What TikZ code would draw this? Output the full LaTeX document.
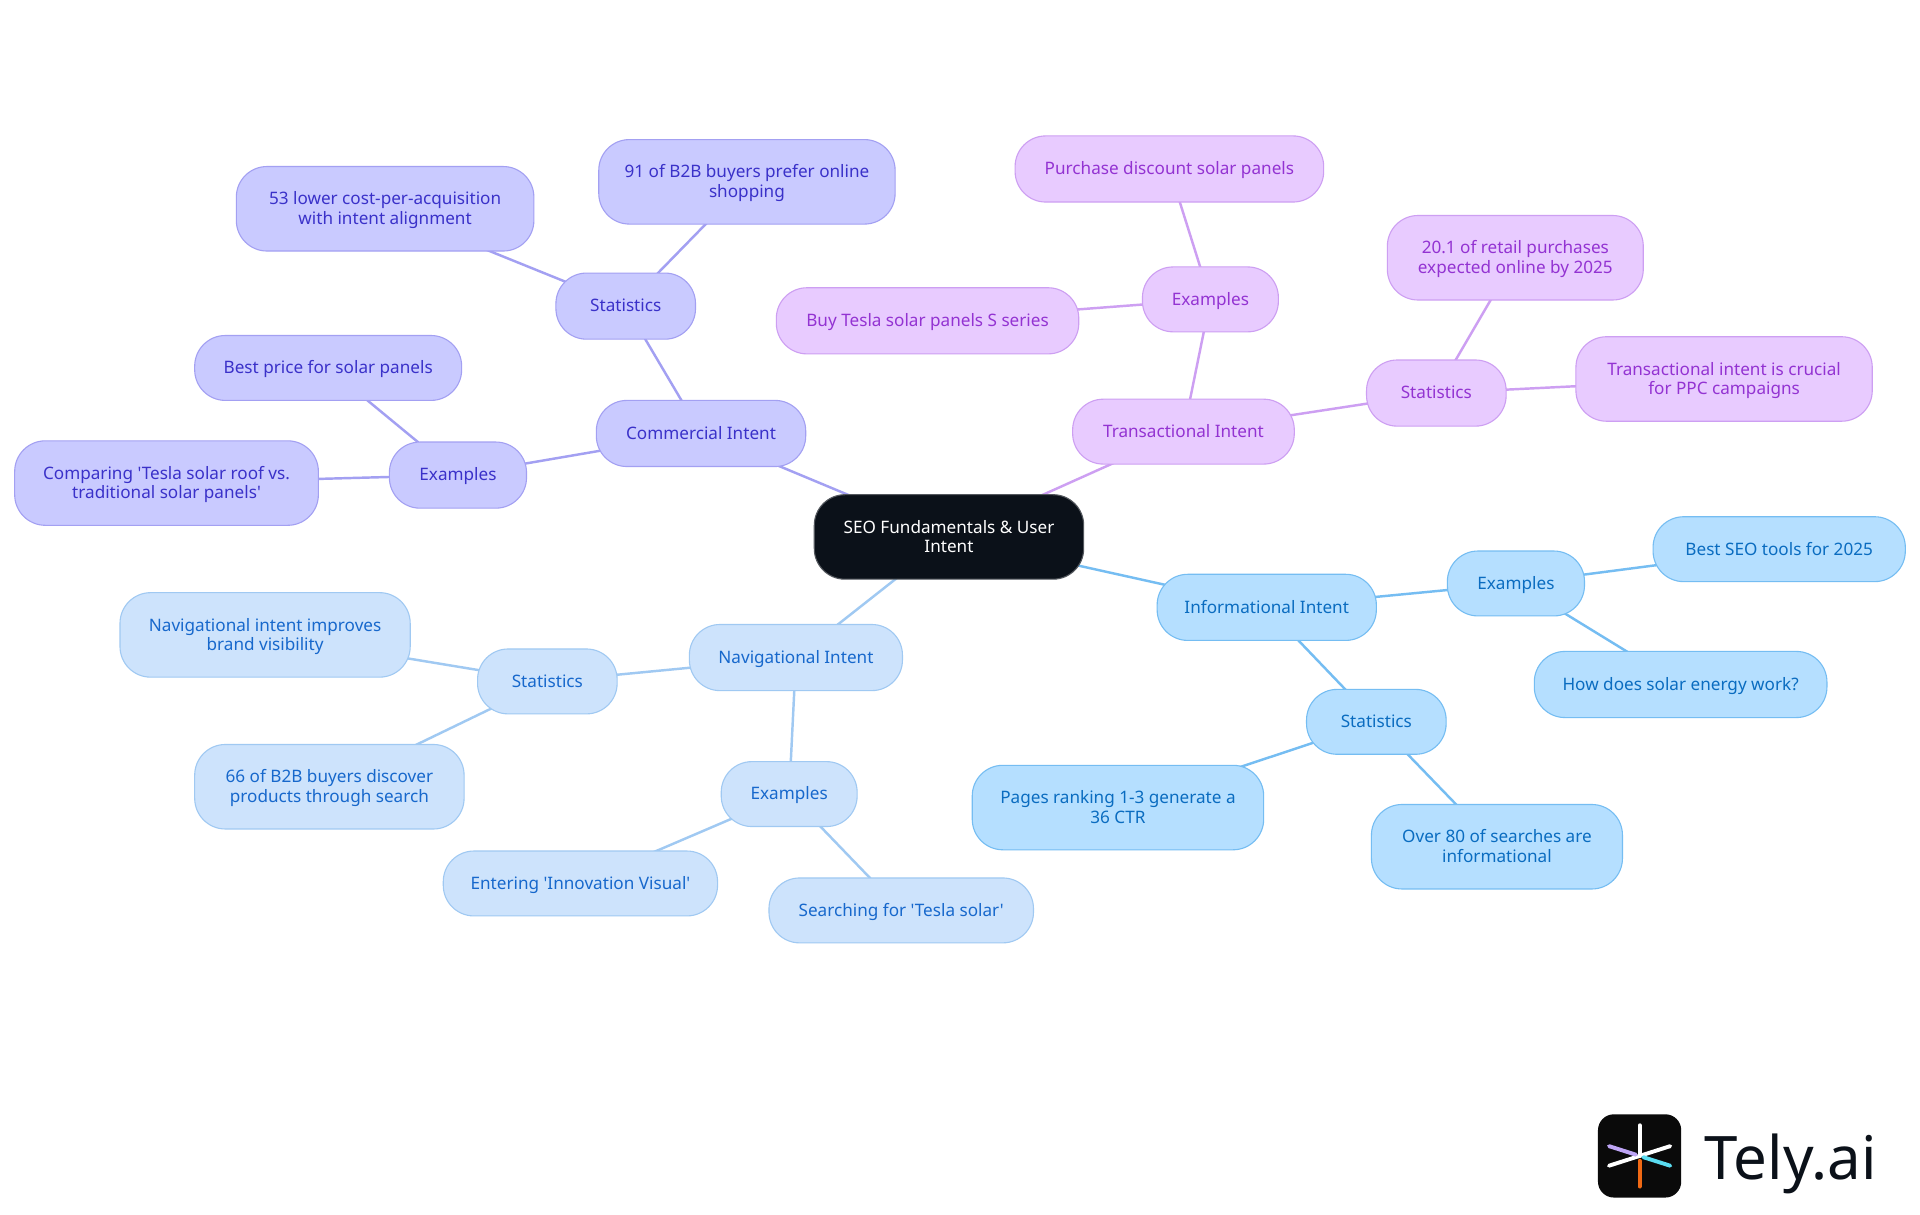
\documentclass[tikz,border=0pt]{standalone}
\usepackage{fontspec}
\setmainfont{Noto Sans}[Ligatures=TeXOff]
\usetikzlibrary{backgrounds}
\definecolor{cfill}{HTML}{C9CAFF}\definecolor{cline}{HTML}{A3A0F2}\definecolor{ctext}{HTML}{3A31C9}
\definecolor{tfill}{HTML}{E8CBFF}\definecolor{tline}{HTML}{CD9FF2}\definecolor{ttext}{HTML}{9333D2}
\definecolor{ifill}{HTML}{B5DFFF}\definecolor{iline}{HTML}{75BDF2}\definecolor{itext}{HTML}{0A6CC0}
\definecolor{nfill}{HTML}{CDE3FC}\definecolor{nline}{HTML}{A0C9F2}\definecolor{ntext}{HTML}{1768CC}
\definecolor{rootc}{HTML}{0B1119}
\tikzset{
 x=1pt,y=-1pt,
 base/.style={rounded corners=25pt,line width=.9pt,inner sep=0pt,align=center,font=\fontsize{14}{15.9}\selectfont},
 cbox/.style={base,draw=cline,fill=cfill,text=ctext},
 tbox/.style={base,draw=tline,fill=tfill,text=ttext},
 ibox/.style={base,draw=iline,fill=ifill,text=itext},
 nbox/.style={base,draw=nline,fill=nfill,text=ntext},
 rootbox/.style={base,draw=rootc!70!white,fill=rootc,text=white},
 cedge/.style={line width=2pt,draw=cline},
 tedge/.style={line width=2pt,draw=tline},
 iedge/.style={line width=2pt,draw=iline},
 nedge/.style={line width=2pt,draw=nline},
}
% #1 style, #2 name, #3 x1, #4 x2, #5 y1, #6 y2, #7 text
\newcommand{\bx}[7]{\node[#1,minimum width=#4pt-#3pt,minimum height=#6pt-#5pt] (#2) at ({(#3+#4)/2},{(#5+#6)/2}) {\raisebox{-1.6pt}[\height][\depth]{\begin{tabular}{@{}c@{}}#7\end{tabular}}};}
\begin{document}
\begin{tikzpicture}
\useasboundingbox (0,0) rectangle (1568,992.25);
\bx{rootbox}{root}{665}{885}{404}{473}{SEO Fundamentals \& User\\Intent}
\bx{cbox}{comm}{487}{658}{327}{381}{Commercial Intent}
\bx{cbox}{cstat}{454}{568}{223}{277}{Statistics}
\bx{cbox}{cs1}{193}{436}{136}{205}{53 lower cost-per-acquisition\\with intent alignment}
\bx{cbox}{cs2}{489}{731}{114}{183}{91 of B2B buyers prefer online\\shopping}
\bx{cbox}{cex}{318}{430}{361}{415}{Examples}
\bx{cbox}{ce1}{159}{377}{274}{327}{Best price for solar panels}
\bx{cbox}{ce2}{12}{260}{360}{429}{Comparing 'Tesla solar roof vs.\\traditional solar panels'}
\bx{tbox}{trans}{876}{1057}{326}{379}{Transactional Intent}
\bx{tbox}{tex}{933}{1044}{218}{271}{Examples}
\bx{tbox}{te1}{829}{1081}{111}{165}{Purchase discount solar panels}
\bx{tbox}{te2}{634}{881}{235}{289}{Buy Tesla solar panels S series}
\bx{tbox}{tstat}{1116}{1230}{294}{348}{Statistics}
\bx{tbox}{ts1}{1133}{1342}{176}{245}{20.1 of retail purchases\\expected online by 2025}
\bx{tbox}{ts2}{1287}{1529}{275}{344}{Transactional intent is crucial\\for PPC campaigns}
\bx{ibox}{info}{945}{1124}{469}{523}{Informational Intent}
\bx{ibox}{iex}{1182}{1294}{450}{503}{Examples}
\bx{ibox}{ie1}{1350}{1556}{422}{475}{Best SEO tools for 2025}
\bx{ibox}{ie2}{1253}{1492}{532}{586}{How does solar energy work?}
\bx{ibox}{istat}{1067}{1181}{563}{616}{Statistics}
\bx{ibox}{is1}{794}{1032}{625}{694}{Pages ranking 1-3 generate a\\36 CTR}
\bx{ibox}{is2}{1120}{1325}{657}{726}{Over 80 of searches are\\informational}
\bx{nbox}{nav}{563}{737}{510}{564}{Navigational Intent}
\bx{nbox}{nstat}{390}{504}{530}{583}{Statistics}
\bx{nbox}{ns1}{98}{335}{484}{553}{Navigational intent improves\\brand visibility}
\bx{nbox}{ns2}{159}{379}{608}{677}{66 of B2B buyers discover\\products through search}
\bx{nbox}{nex}{589}{700}{622}{675}{Examples}
\bx{nbox}{ne1}{362}{586}{695}{748}{Entering 'Innovation Visual'}
\bx{nbox}{ne2}{628}{844}{717}{770}{Searching for 'Tesla solar'}
\begin{pgfonlayer}{background}
\fill[white] (0,0) rectangle (1568,992.25);
\foreach \a/\b in {root/comm,comm/cstat,cstat/cs1,cstat/cs2,comm/cex,cex/ce1,cex/ce2}
  \draw[cedge] (\a.center) -- (\b.center);
\foreach \a/\b in {root/trans,trans/tex,tex/te1,tex/te2,trans/tstat,tstat/ts1,tstat/ts2}
  \draw[tedge] (\a.center) -- (\b.center);
\foreach \a/\b in {root/info,info/iex,iex/ie1,iex/ie2,info/istat,istat/is1,istat/is2}
  \draw[iedge] (\a.center) -- (\b.center);
\foreach \a/\b in {root/nav,nav/nstat,nstat/ns1,nstat/ns2,nav/nex,nex/ne1,nex/ne2}
  \draw[nedge] (\a.center) -- (\b.center);
\end{pgfonlayer}
% logo
\fill[black!96!white,rounded corners=13pt] (1305,910) rectangle (1373,978);
\coordinate (lc) at (1339,944);
\draw[line width=3.2pt,line cap=round,white] (lc) -- (1339,919);
\draw[line width=3.2pt,line cap=round,white] (lc) -- (1364,936);
\draw[line width=3.2pt,line cap=round,white] (lc) -- (1314,952);
\draw[line width=3.2pt,line cap=round,color={rgb,255:red,190;green,165;blue,245}] (1336,943) -- (1314,936);
\draw[line width=3.2pt,line cap=round,color={rgb,255:red,90;green,220;blue,240}] (1342,945) -- (1364,952);
\draw[line width=3.2pt,line cap=round,color={rgb,255:red,240;green,105;blue,20}] (1339,948) -- (1339,969);
\node[text=rootc,inner sep=0pt,anchor=base west,font=\fontsize{49}{49}\selectfont] (logo) at (1392,963) {Tely.ai};
\end{tikzpicture}
\end{document}
